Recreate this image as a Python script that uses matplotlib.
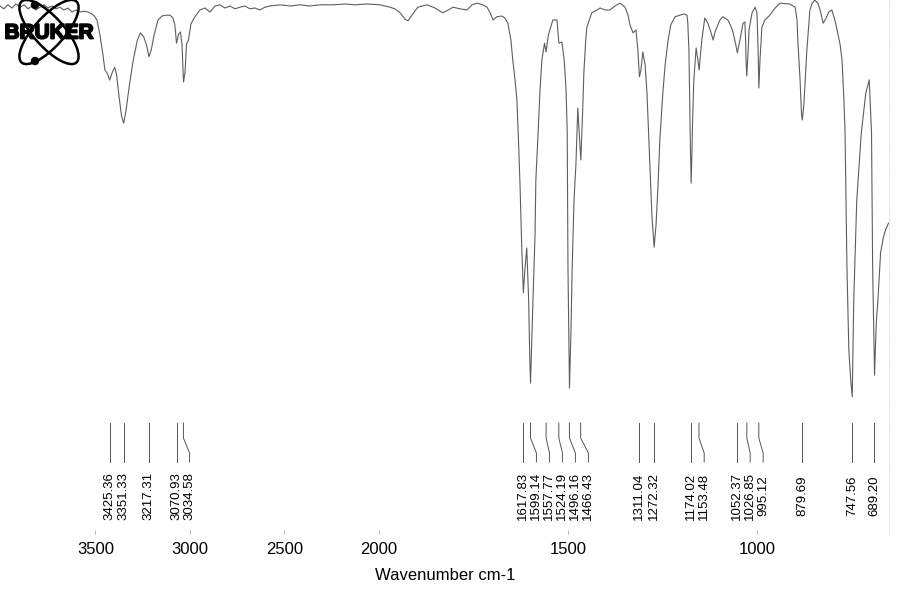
import numpy as np
import matplotlib.pyplot as plt
import matplotlib.patheffects as pe
from matplotlib.patches import Ellipse, Circle
from matplotlib.lines import Line2D
from matplotlib.ticker import NullLocator

plt.rcParams['font.family'] = ['Liberation Sans', 'DejaVu Sans']

# Espectro IR (numero de onda en cm-1, transmitancia en %)
wavenumber = [
    4005, 3984, 3963, 3942, 3921, 3899, 3878, 3857, 3836, 3815,
    3794, 3772, 3751, 3730, 3709, 3688, 3667, 3646, 3624, 3603,
    3582, 3561, 3540, 3518, 3503, 3492, 3476, 3460, 3450, 3436,
    3425, 3410, 3398, 3388, 3376, 3362, 3351, 3340, 3324, 3300,
    3278, 3262, 3245, 3230, 3217, 3205, 3190, 3169, 3148, 3127,
    3106, 3090, 3080, 3071, 3060, 3050, 3042, 3034, 3026, 3018,
    3008, 2995, 2974, 2947, 2921, 2894, 2868, 2841, 2815, 2788,
    2762, 2735, 2709, 2683, 2656, 2630, 2603, 2577, 2524, 2471,
    2418, 2365, 2312, 2243, 2180, 2127, 2063, 1997, 1971, 1958,
    1944, 1931, 1923, 1913, 1897, 1873, 1852, 1831, 1817, 1804,
    1786, 1767, 1754, 1741, 1725, 1714, 1706, 1698, 1688, 1675,
    1667, 1659, 1651, 1646, 1640, 1635, 1630, 1627, 1622, 1618,
    1614, 1609, 1604, 1601, 1599, 1595, 1587, 1585, 1579, 1574,
    1569, 1562, 1558, 1552, 1540, 1529, 1524, 1516, 1510, 1505,
    1502, 1500, 1496, 1492, 1489, 1484, 1479, 1474, 1466, 1461,
    1458, 1453, 1450, 1437, 1423, 1415, 1402, 1389, 1376, 1362,
    1349, 1341, 1336, 1328, 1320, 1315, 1311, 1307, 1302, 1296,
    1291, 1283, 1278, 1272, 1267, 1262, 1257, 1249, 1243, 1235,
    1228, 1217, 1204, 1193, 1185, 1183, 1180, 1178, 1176, 1174,
    1170, 1167, 1161, 1157, 1153, 1146, 1138, 1130, 1122, 1116,
    1111, 1106, 1098, 1090, 1077, 1069, 1063, 1056, 1052, 1045,
    1037, 1032, 1030, 1029, 1027, 1024, 1021, 1013, 1005, 1000,
    997, 995, 992, 987, 979, 966, 952, 939, 913, 899,
    894, 892, 886, 882, 880, 876, 870, 868, 860, 854,
    847, 839, 833, 825, 817, 810, 802, 794, 788, 780,
    775, 770, 767, 762, 757, 752, 748, 744, 736, 724,
    712, 703, 697, 694, 689, 686, 684, 680, 673, 666,
    660, 652,
]
transmittance = [
    98.5, 97.8, 98.8, 98.0, 99.0, 98.2, 98.8, 97.8, 98.5, 97.5,
    98.2, 98.8, 98.0, 98.5, 97.8, 98.2, 97.5, 98.0, 97.0, 97.5,
    97.0, 97.2, 97.0, 96.5, 95.8, 95.0, 91.2, 86.2, 82.5, 81.5,
    80.0, 82.0, 83.2, 81.2, 76.2, 71.0, 69.2, 71.8, 77.5, 85.0,
    90.0, 91.8, 90.8, 88.8, 85.8, 87.5, 91.2, 95.0, 96.0, 96.2,
    96.2, 95.5, 93.8, 89.2, 91.5, 92.0, 88.8, 79.5, 82.0, 89.0,
    90.0, 94.0, 95.8, 97.5, 98.0, 97.0, 98.5, 98.8, 98.0, 98.5,
    97.8, 98.2, 98.5, 97.8, 98.0, 97.5, 98.2, 98.5, 98.8, 98.5,
    98.8, 98.5, 98.8, 98.8, 99.0, 98.8, 99.0, 98.8, 98.2, 97.8,
    96.8, 95.2, 94.8, 96.2, 98.2, 98.8, 98.0, 96.8, 97.5, 98.2,
    97.8, 97.5, 98.8, 99.2, 98.8, 98.2, 96.8, 95.0, 95.8, 96.0,
    95.5, 94.2, 90.0, 85.0, 80.0, 75.0, 62.5, 54.2, 37.5, 26.8,
    32.5, 38.0, 25.0, 10.0, 4.2, 17.5, 41.8, 55.0, 66.8, 77.5,
    85.0, 89.2, 87.0, 91.2, 95.0, 95.0, 89.2, 89.5, 85.0, 77.5,
    66.8, 33.2, 3.0, 17.5, 32.5, 50.0, 58.8, 73.0, 60.0, 72.5,
    81.8, 90.0, 93.2, 96.8, 97.5, 98.0, 97.5, 97.5, 98.5, 99.2,
    98.2, 96.2, 93.8, 91.8, 92.5, 87.5, 80.8, 82.5, 87.0, 83.8,
    76.8, 58.2, 46.2, 38.2, 43.8, 53.2, 65.0, 76.8, 83.8, 90.0,
    93.8, 95.8, 96.2, 96.5, 96.2, 94.2, 87.5, 75.0, 62.5, 54.2,
    70.8, 80.0, 88.0, 85.5, 82.5, 90.0, 95.5, 94.2, 92.0, 90.0,
    92.0, 93.2, 95.0, 95.8, 95.0, 93.5, 91.8, 88.8, 86.8, 90.0,
    94.2, 94.5, 90.0, 85.0, 81.0, 86.2, 92.5, 96.8, 98.2, 96.8,
    87.5, 78.0, 85.0, 93.2, 95.0, 96.2, 98.0, 99.2, 99.0, 98.2,
    95.0, 90.0, 80.0, 71.2, 70.0, 73.8, 83.8, 87.5, 97.5, 99.2,
    100.0, 99.2, 97.5, 94.2, 95.5, 97.0, 97.5, 95.0, 92.5, 88.8,
    85.0, 75.0, 66.8, 33.2, 12.5, 5.0, 0.8, 25.0, 50.0, 66.8,
    76.8, 80.0, 66.8, 33.2, 6.2, 15.0, 20.0, 25.0, 36.8, 40.5,
    42.5, 44.2,
]

# Picos marcados
peak_labels = ['3425.36', '3351.33', '3217.31', '3070.93', '3034.58',
               '1617.83', '1599.14', '1557.77', '1524.19', '1496.16', '1466.43',
               '1311.04', '1272.32', '1174.02', '1153.48',
               '1052.37', '1026.85', '995.12', '879.69', '747.56', '689.20']

axis_ticks = [3500, 3000, 2500, 2000, 1500, 1000]


# Escala comprimida a la mitad por encima de 2000 cm-1
def forward(w):
    w = np.asarray(w, dtype=float)
    return np.where(w > 2000, 2000 + (w - 2000) / 2, w)


def inverse(s):
    s = np.asarray(s, dtype=float)
    return np.where(s > 2000, 2000 + (s - 2000) * 2, s)


W, H = 901, 600
fig = plt.figure(figsize=(W / 100, H / 100), dpi=100)
ax = fig.add_axes([0, 70 / H, 1, 530 / H])
ax.set_xscale('function', functions=(forward, inverse))
ax.plot(wavenumber, transmittance, color='#5e5e5e', lw=0.8, clip_on=False)
ax.set_xlim(4005, 619)
ax.set_ylim(-32.5, 100)
for s in ax.spines.values():
    s.set_visible(False)
ax.set_yticks([])
ax.set_xticks(axis_ticks)
ax.set_xticklabels([str(t) for t in axis_ticks])
ax.xaxis.set_minor_locator(NullLocator())
ax.tick_params(axis='x', direction='out', length=3, width=0.6, color='#aaaaaa',
               pad=6, labelsize=12)
fig.text(445 / W, 1 - 575 / H, 'Wavenumber cm-1', ha='center', va='center', fontsize=12)

# Etiquetas de picos, separadas al menos 13 px
peak_px = [ax.transData.transform((float(p), 50))[0] for p in peak_labels]
label_px = []
prev = -1e9
for p in peak_px:
    q = max(p, prev + 13)
    label_px.append(q)
    prev = q

y_top, y_b1, y_b2, y_bot = 423, 438, 453, 462
for lab, p, q in zip(peak_labels, peak_px, label_px):
    xs = [p, p, q, q]
    ys = [y_top, y_b1, y_b2, y_bot]
    fig.add_artist(Line2D([x / W for x in xs], [1 - y / H for y in ys],
                          transform=fig.transFigure, color='#555555', lw=0.7))
    fig.text(q / W, 1 - 496 / H, lab, rotation=90, ha='center', va='center', fontsize=9.5)

# linea punteada del borde derecho
fig.add_artist(Line2D([889 / W, 889 / W], [1, 1 - 535 / H], transform=fig.transFigure,
                      color='#bbbbbb', lw=0.6, ls=':'))

# Logo
lax = fig.add_axes([0, 0, 1, 1])
lax.set_xlim(0, W)
lax.set_ylim(H, 0)
lax.axis('off')
lax.add_patch(Ellipse((49, 32), 82, 30, angle=48, fill=False, lw=1.8, ec='black'))
lax.add_patch(Ellipse((49, 32), 82, 30, angle=-48, fill=False, lw=1.8, ec='black'))
lax.add_patch(Circle((35, 5), 3.5, color='black'))
lax.add_patch(Circle((35, 61), 3.5, color='black'))
lax.text(49, 33, 'BRUKER', ha='center', va='center', fontsize=15, fontweight='bold',
         path_effects=[pe.withStroke(linewidth=1.3, foreground='black')])

plt.savefig('out.png', dpi=100)
